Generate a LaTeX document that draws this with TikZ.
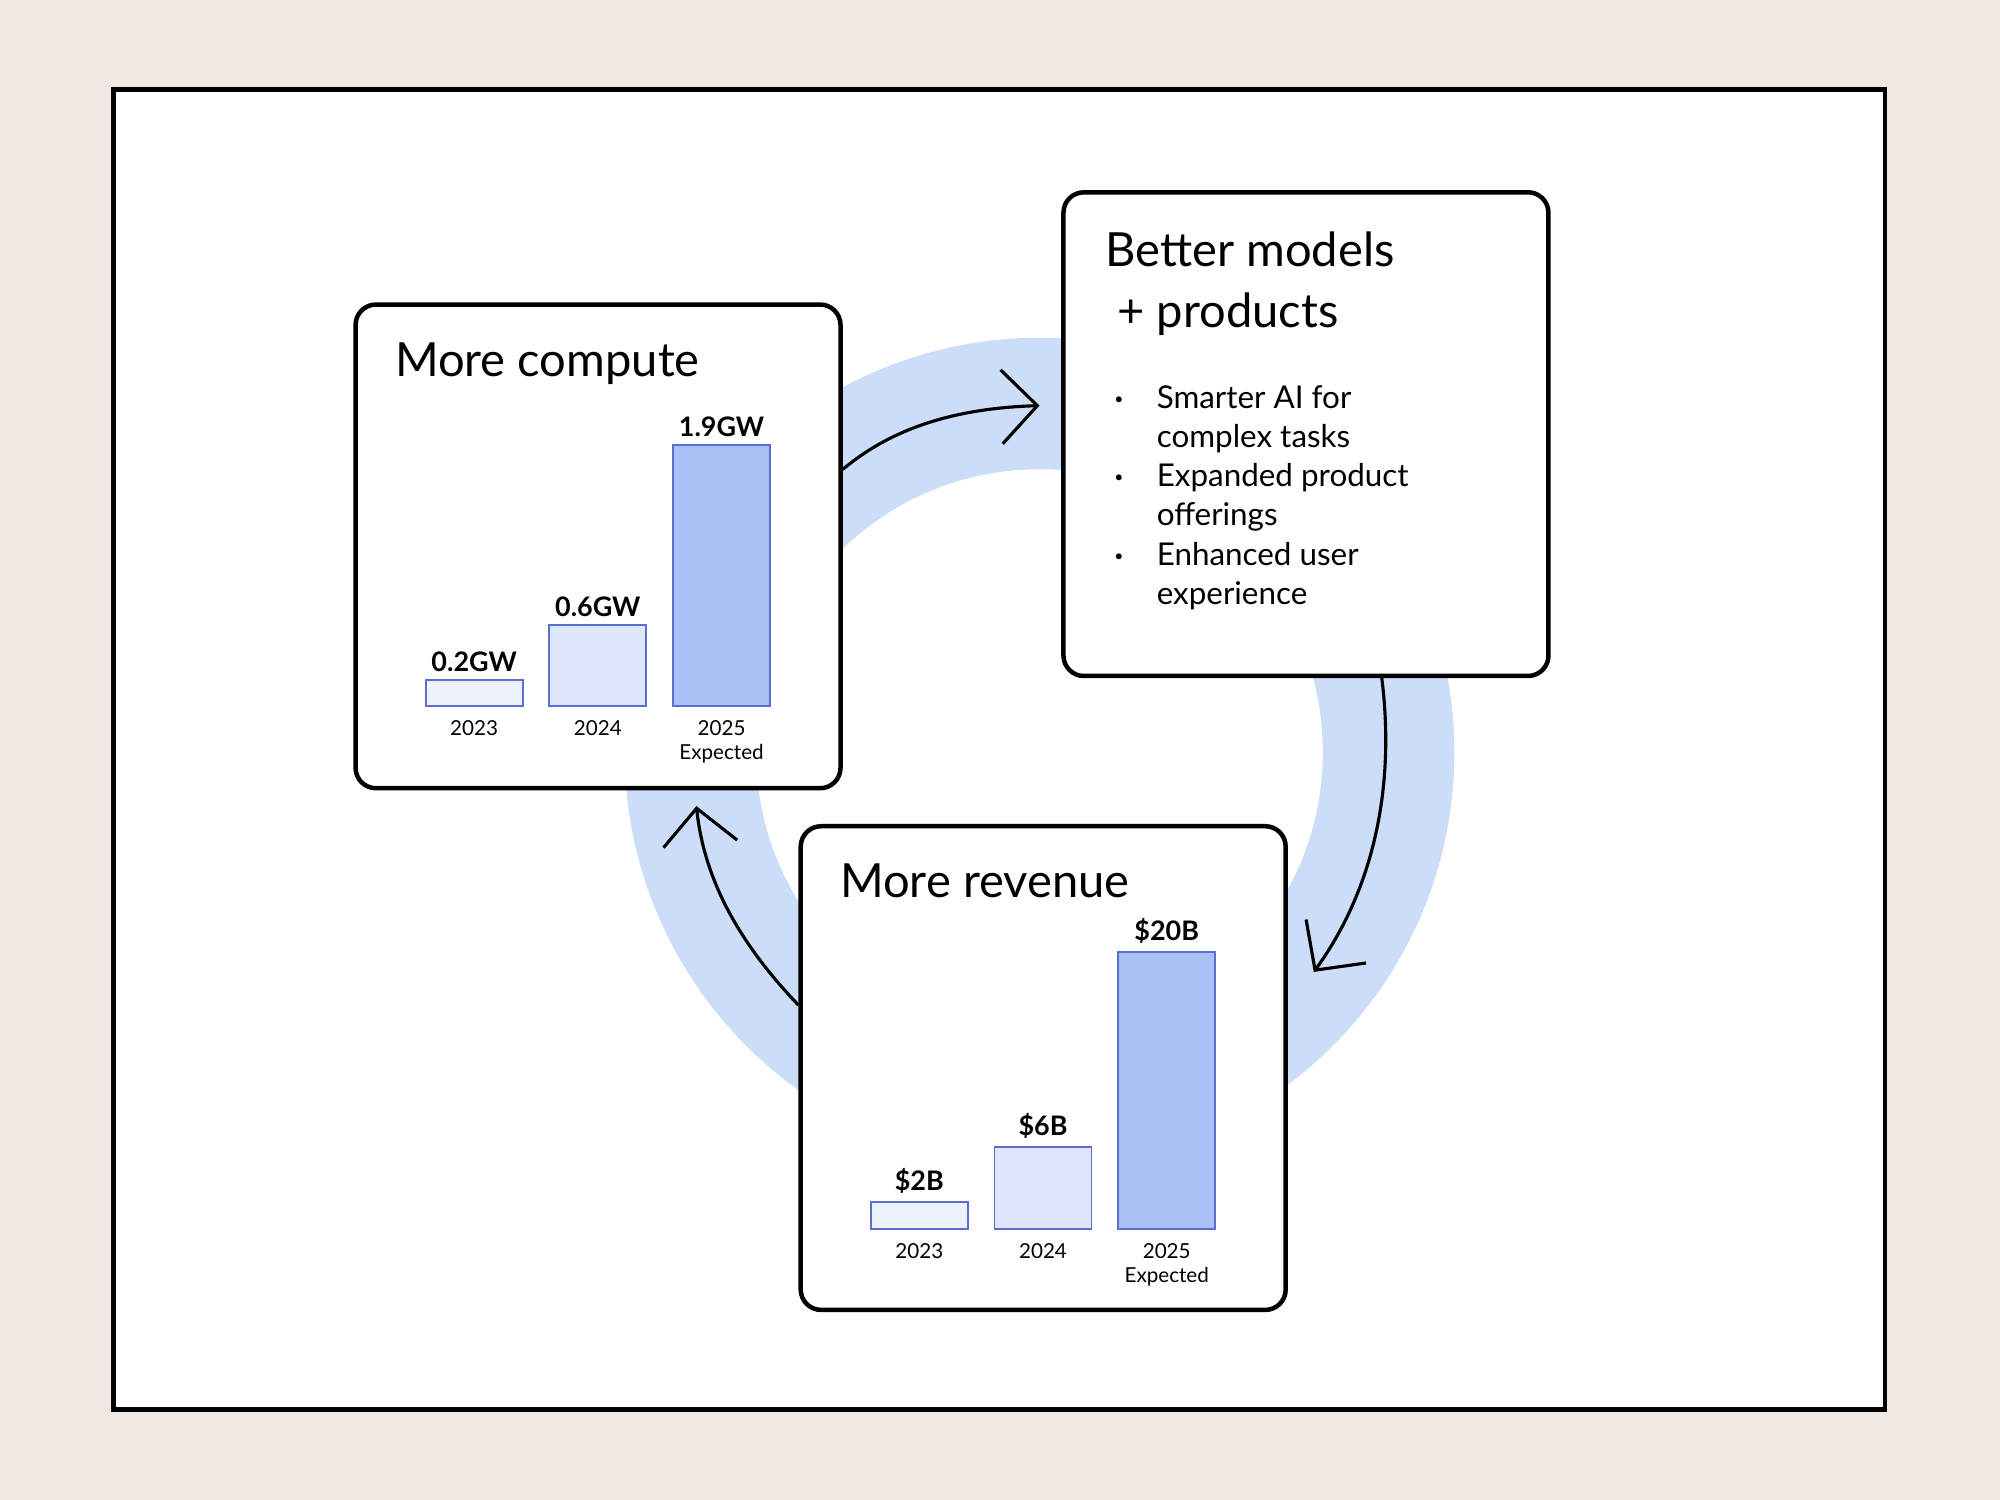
\documentclass[tikz,border=0pt]{standalone}
\usepackage{fontspec}
\setmainfont{Lato}
\usetikzlibrary{arrows.meta,positioning}
\definecolor{beige}{HTML}{F0E8E2}
\definecolor{ring}{HTML}{CCDDF8}
\definecolor{barline}{HTML}{5A6FD0}
\definecolor{barlo}{HTML}{EEF2FC}
\definecolor{barmid}{HTML}{DDE6FA}
\definecolor{barhi}{HTML}{A9C0F5}
\newcommand{\dotitem}{\makebox[1.35em][l]{\raisebox{0.25ex}{\scalebox{0.5}{\textbullet}}}}
\newcommand{\dotcont}{\makebox[1.35em][l]{}}
\tikzset{
  box/.style={draw, line width=1pt, rounded corners=0.16cm, anchor=north west,
    minimum width=3.8cm, minimum height=3.79cm},
  title/.style={anchor=base west, inner sep=0pt, font=\fontsize{10.5}{13.5}\selectfont},
  bar/.style={draw=barline, line width=0.4pt, anchor=south west, minimum width=0.76cm, inner sep=0pt},
  val/.style={anchor=south, font=\fontsize{6}{7}\selectfont\bfseries, inner sep=1.5pt},
  yr/.style={anchor=north, font=\fontsize{4.6}{5.3}\selectfont, align=center, inner sep=3pt},
  flow/.style={line width=0.7pt, -{Straight Barb[length=0.28cm,width=0.58cm,line width=0.7pt]}}
}
\begin{document}
\begin{tikzpicture}[x=0.01cm,y=-0.01cm]
  \fill[beige] (0,0) rectangle (1568,1176);
  \useasboundingbox (0,0) rectangle (1568,1176);
  \draw[fill=white, line width=1pt] (89,70) rectangle (1478,1105);
  % ring
  \fill[ring, even odd rule] (815,590) circle[radius=3.25cm] (815,590) circle[radius=2.22cm];

  \node[box, fill=white] (compute) at (277,237) {};
  \node[box, fill=white] (models) at (832,149) {};
  \node[box, fill=white] (revenue) at (626,646) {};

  \node[title] (tcompute) at (309,295) {More compute};
  \node[title, anchor=north west, align=left] (tmodels) at (866,181) {Better models\\\ + products};
  \node[title] (trevenue) at (658,704) {More revenue};

  \node[anchor=north west, align=left, inner sep=0pt, font=\fontsize{7}{8.7}\selectfont] (list) at (873,302)
    {\dotitem Smarter AI for\\\dotcont complex tasks\\
     \dotitem Expanded product\\\dotcont offerings\\
     \dotitem Enhanced user\\\dotcont experience};

  % compute bars
  \node[bar, fill=barlo, minimum height=0.20cm] (c1) at (333,554) {};
  \node[bar, fill=barmid, minimum height=0.63cm] (c2) at (430,554) {};
  \node[bar, fill=barhi, minimum height=2.04cm] (c3) at (527,554) {};
  \node[val] at (c1.north) {0.2GW};
  \node[val] at (c2.north) {0.6GW};
  \node[val] at (c3.north) {1.9GW};
  \node[yr] at (c1.south) {2023};
  \node[yr] at (c2.south) {2024};
  \node[yr] at (c3.south) {2025\\Expected};

  % revenue bars
  \node[bar, fill=barlo, minimum height=0.21cm] (r1) at (682,964) {};
  \node[bar, fill=barmid, minimum height=0.64cm] (r2) at (779,964) {};
  \node[bar, fill=barhi, minimum height=2.17cm] (r3) at (876,964) {};
  \node[val] at (r1.north) {\$2B};
  \node[val] at (r2.north) {\$6B};
  \node[val] at (r3.north) {\$20B};
  \node[yr] at (r1.south) {2023};
  \node[yr] at (r2.south) {2024};
  \node[yr] at (r3.south) {2025\\Expected};

  % cycle arrows
  \coordinate (tip1) at (815,318);
  \coordinate (tip2) at (1030,762);
  \coordinate (tip3) at (546,632);
  \draw[flow] (compute.east |- 0,368) .. controls (700,335) and (750,320) .. (tip1);
  \draw[flow] (1083,529) .. controls (1095,620) and (1075,700) .. (tip2);
  \draw[flow] (revenue.west |- 0,788) .. controls (580,740) and (552,690) .. (tip3);
\end{tikzpicture}
\end{document}
